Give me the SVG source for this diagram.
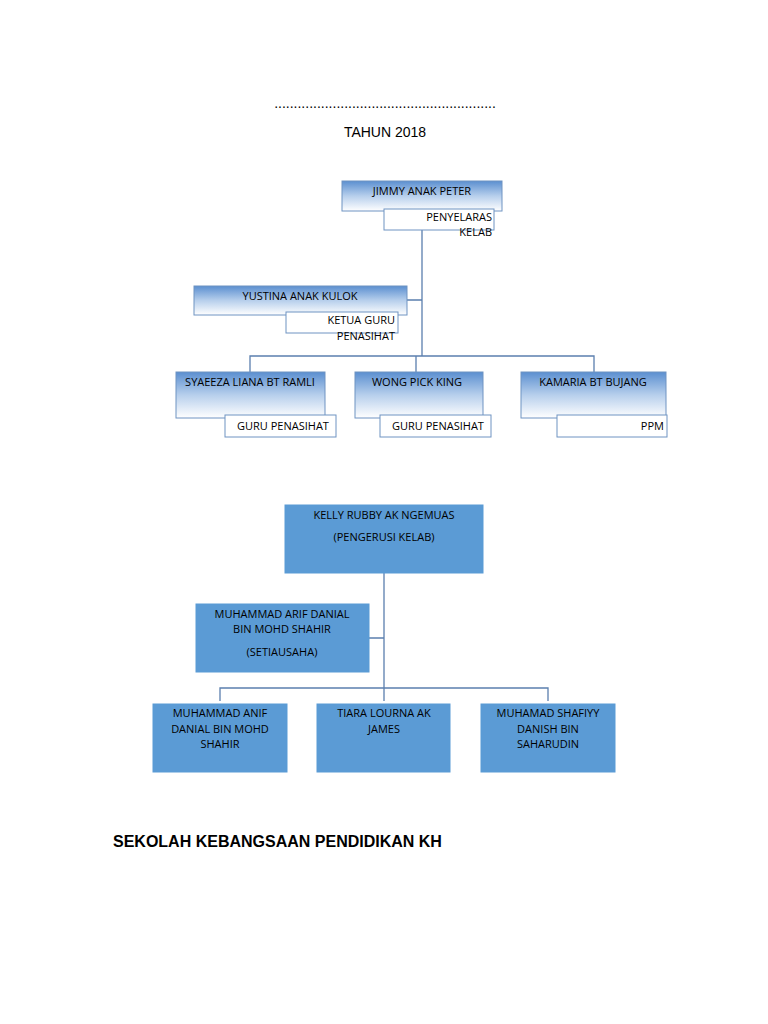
<svg xmlns="http://www.w3.org/2000/svg" width="768" height="1024" viewBox="0 0 768 1024">
<defs>
<linearGradient id="g" x1="0" y1="0" x2="0" y2="1"><stop offset="0" stop-color="#5b8fd0"/><stop offset="0.5" stop-color="#b7cfec"/><stop offset="1" stop-color="#ffffff"/></linearGradient>
<style>
.gb{fill:url(#g);stroke:#6f93c2;stroke-width:1}
.wb{fill:#fff;stroke:#6f93c2;stroke-width:1}
.bb{fill:#5b9bd5;stroke:#5b9bd5}
.t{font-family:"Open Sans","Noto Sans",sans-serif;font-size:11px;fill:#000}
.c{text-anchor:middle}
.r{text-anchor:end}
.ln{stroke:#5b7fae;stroke-width:1.3;fill:none}
.h{font-family:"Liberation Sans",Arial,sans-serif;fill:#000}
</style>
</defs>
<rect width="768" height="1024" fill="#fff"/>
<text class="h" x="385" y="108" text-anchor="middle" font-size="14">.........................................................</text>
<text class="h" x="385" y="137" text-anchor="middle" font-size="14">TAHUN 2018</text>
<g id="connectors">
<path class="ln" d="M422,230V356M407,300H422M250,372V356H594V372M416,356V372"/>
<path class="ln" d="M384,573V701M369,638H384M220,701V688H548V701"/>
</g>
<g id="jimmy"><rect class="gb" x="342" y="181" width="160" height="30"/><text class="t c" x="422" y="195">JIMMY ANAK PETER</text>
<rect class="wb" x="384" y="209" width="110" height="21"/><text class="t r" x="492" y="221">PENYELARAS</text><text class="t r" x="492" y="236">KELAB</text></g>
<g id="yustina"><rect class="gb" x="194" y="286" width="213" height="29" stroke="none"/><text class="t c" x="300" y="300">YUSTINA ANAK KULOK</text>
<rect class="wb" x="286" y="312" width="112" height="21"/><text class="t r" x="395" y="324">KETUA GURU</text><text class="t r" x="395" y="340">PENASIHAT</text></g>
<g id="syaeeza"><rect class="gb" x="176" y="372" width="149" height="46"/><text class="t c" x="250" y="386">SYAEEZA LIANA BT RAMLI</text>
<rect class="wb" x="225" y="415" width="111" height="22"/><text class="t c" x="283" y="430">GURU PENASIHAT</text></g>
<g id="wong"><rect class="gb" x="355" y="372" width="128" height="46"/><text class="t c" x="417" y="386">WONG PICK KING</text>
<rect class="wb" x="380" y="415" width="111" height="22"/><text class="t c" x="438" y="430">GURU PENASIHAT</text></g>
<g id="kamaria"><rect class="gb" x="521" y="372" width="145" height="46"/><text class="t c" x="593" y="386">KAMARIA BT BUJANG</text>
<rect class="wb" x="557" y="415" width="110" height="22"/><text class="t r" x="664" y="430">PPM</text></g>
<g id="kelly"><rect class="bb" x="285" y="505" width="198" height="68"/><text class="t c" x="384" y="519">KELLY RUBBY AK NGEMUAS</text><text class="t c" x="384" y="541">(PENGERUSI KELAB)</text></g>
<g id="arif"><rect class="bb" x="196" y="604" width="173" height="68"/><text class="t c" x="282" y="618">MUHAMMAD ARIF DANIAL</text><text class="t c" x="282" y="633">BIN MOHD SHAHIR</text><text class="t c" x="282" y="656">(SETIAUSAHA)</text></g>
<g id="anif"><rect class="bb" x="153" y="704" width="134" height="68"/><text class="t c" x="220" y="717">MUHAMMAD ANIF</text><text class="t c" x="220" y="733">DANIAL BIN MOHD</text><text class="t c" x="220" y="748">SHAHIR</text></g>
<g id="tiara"><rect class="bb" x="317" y="704" width="133" height="68"/><text class="t c" x="384" y="717">TIARA LOURNA AK</text><text class="t c" x="384" y="733">JAMES</text></g>
<g id="shafiyy"><rect class="bb" x="481" y="704" width="134" height="68"/><text class="t c" x="548" y="717">MUHAMAD SHAFIYY</text><text class="t c" x="548" y="733">DANISH BIN</text><text class="t c" x="548" y="748">SAHARUDIN</text></g>
<text class="h" x="113" y="847" font-size="16" font-weight="bold">SEKOLAH KEBANGSAAN PENDIDIKAN KH</text>
</svg>
